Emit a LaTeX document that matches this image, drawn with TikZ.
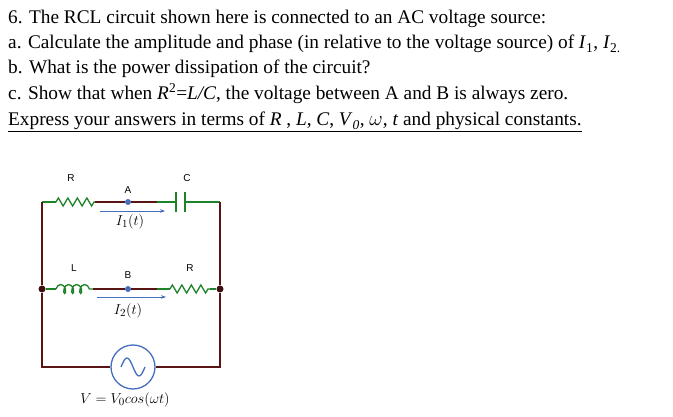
\documentclass[tikz,border=0pt]{standalone}
\usepackage{fontspec}
\setmainfont{Liberation Serif}
\newfontfamily\labelfont{Liberation Sans}
\usetikzlibrary{arrows.meta,calc,decorations.pathmorphing}
\definecolor{wirebrown}{RGB}{90,20,20}
\definecolor{partgreen}{RGB}{30,130,40}
\definecolor{markblue}{RGB}{70,110,190}
\tikzset{
	line/.style={anchor=base west,inner sep=0pt,font=\fontsize{19.3}{21}\selectfont},
	wire/.style={wirebrown,line width=1.3pt},
	part/.style={partgreen,line width=1.3pt},
	tag/.style={font=\labelfont\fontsize{10}{11}\selectfont,inner sep=1pt},
	maths/.style={font=\fontsize{15}{17}\selectfont,inner sep=1pt},
	point/.style={circle,fill=markblue,inner sep=0pt,minimum size=6pt},
	joint/.style={circle,fill=wirebrown!70!black,inner sep=0pt,minimum size=7pt},
	flow/.style={markblue,line width=0.8pt,-{Stealth[length=5pt]}},
	res/.style={part,decorate,decoration={zigzag,segment length=9.5pt,amplitude=4pt}},
	ind/.style={part,decorate,decoration={coil,aspect=0.6,segment length=8pt,amplitude=4.5pt}},
}
\begin{document}
\begin{tikzpicture}[x=1pt,y=-1pt]
\useasboundingbox (0,0) rectangle (673,417);
% question text
\node[line] (q1) at (8,24) {6. The RCL circuit shown here is connected to an AC voltage source:};
\node[line] (q2) at (8,49) {a. Calculate the amplitude and phase (in relative to the voltage source) of \textit{I}\textsubscript{1}, \textit{I}\textsubscript{2.}};
\node[line] (q3) at (8,74) {b. What is the power dissipation of the circuit?};
\node[line] (q4) at (8,100) {c. Show that when \textit{R}\textsuperscript{2}=\textit{L/C}, the voltage between A and B is always zero.};
\node[line] (q5) at (8,126) {\underline{Express your answers in terms of \textit{R} , \textit{L}, \textit{C}, \textit{V}\textsubscript{\textit{0}}, $\omega$, \textit{t} and physical constants.}};

% circuit points
\coordinate (tl) at (42,202);
\coordinate (tr) at (220,202);
\coordinate (bl) at (42,367);
\coordinate (br) at (220,367);
\node[joint] (jl) at (42,289) {};
\node[joint] (jr) at (220,289) {};
\node[point] (A) at (128,202) {};
\node[point] (B) at (128,289) {};

% top branch
\coordinate (r1a) at (56,202);
\coordinate (r1b) at (95,202);
\coordinate (c1) at (176,202);
\coordinate (c2) at (185,202);
\draw[part] (tl) -- (r1a);
\draw[res] (r1a) -- (r1b);
\draw[wire] (r1b) -- (A) -- (157,202);
\draw[part] (157,202) -- (c1);
\draw[part] (c1) ++(0,-10) -- ++(0,20);
\draw[part] (c2) ++(0,-10) -- ++(0,20);
\draw[part] (c2) -- (tr);

% middle branch
\coordinate (la) at (56,289);
\coordinate (lb) at (93,289);
\coordinate (r2a) at (170,289);
\coordinate (r2b) at (210,289);
\draw[part] (jl) -- (la);
\draw[ind] (la) -- (lb);
\draw[wire] (lb) -- (B) -- (157,289);
\draw[part] (157,289) -- (r2a);
\draw[res] (r2a) -- (r2b);
\draw[part] (r2b) -- (jr);

% outer loop and source
\node[circle,draw=markblue,line width=1.3pt,minimum size=44pt,inner sep=0pt] (src) at (133,367) {};
\draw[markblue,line width=1.3pt] ($(src.center)+(-12,0)$) sin ++(6,-9) cos ++(6,9) sin ++(6,9) cos ++(6,-9);
\draw[wire] (tl) -- (jl) -- (bl) -- (src.west);
\draw[wire] (tr) -- (jr) -- (br) -- (src.east);

% labels
\node[tag] (lr1) at (71,178) {R};
\node[tag] (lA) at (128,190) {A};
\node[tag] (lc) at (187,178) {C};
\node[tag] (ll) at (74,268) {L};
\node[tag] (lB) at (128,275) {B};
\node[tag] (lr2) at (190,268) {R};
\coordinate (f1a) at (100,211);
\coordinate (f1b) at (165,211);
\coordinate (f2a) at (97,297);
\coordinate (f2b) at (166,297);
\draw[flow] (f1a) -- (f1b);
\draw[flow] (f2a) -- (f2b);
\node[maths] (i1) at (130,222) {$I_1(t)$};
\node[maths] (i2) at (128,311) {$I_2(t)$};
\node[maths] (v) at (125,400) {$V=V_0cos(\omega t)$};
\end{tikzpicture}
\end{document}
